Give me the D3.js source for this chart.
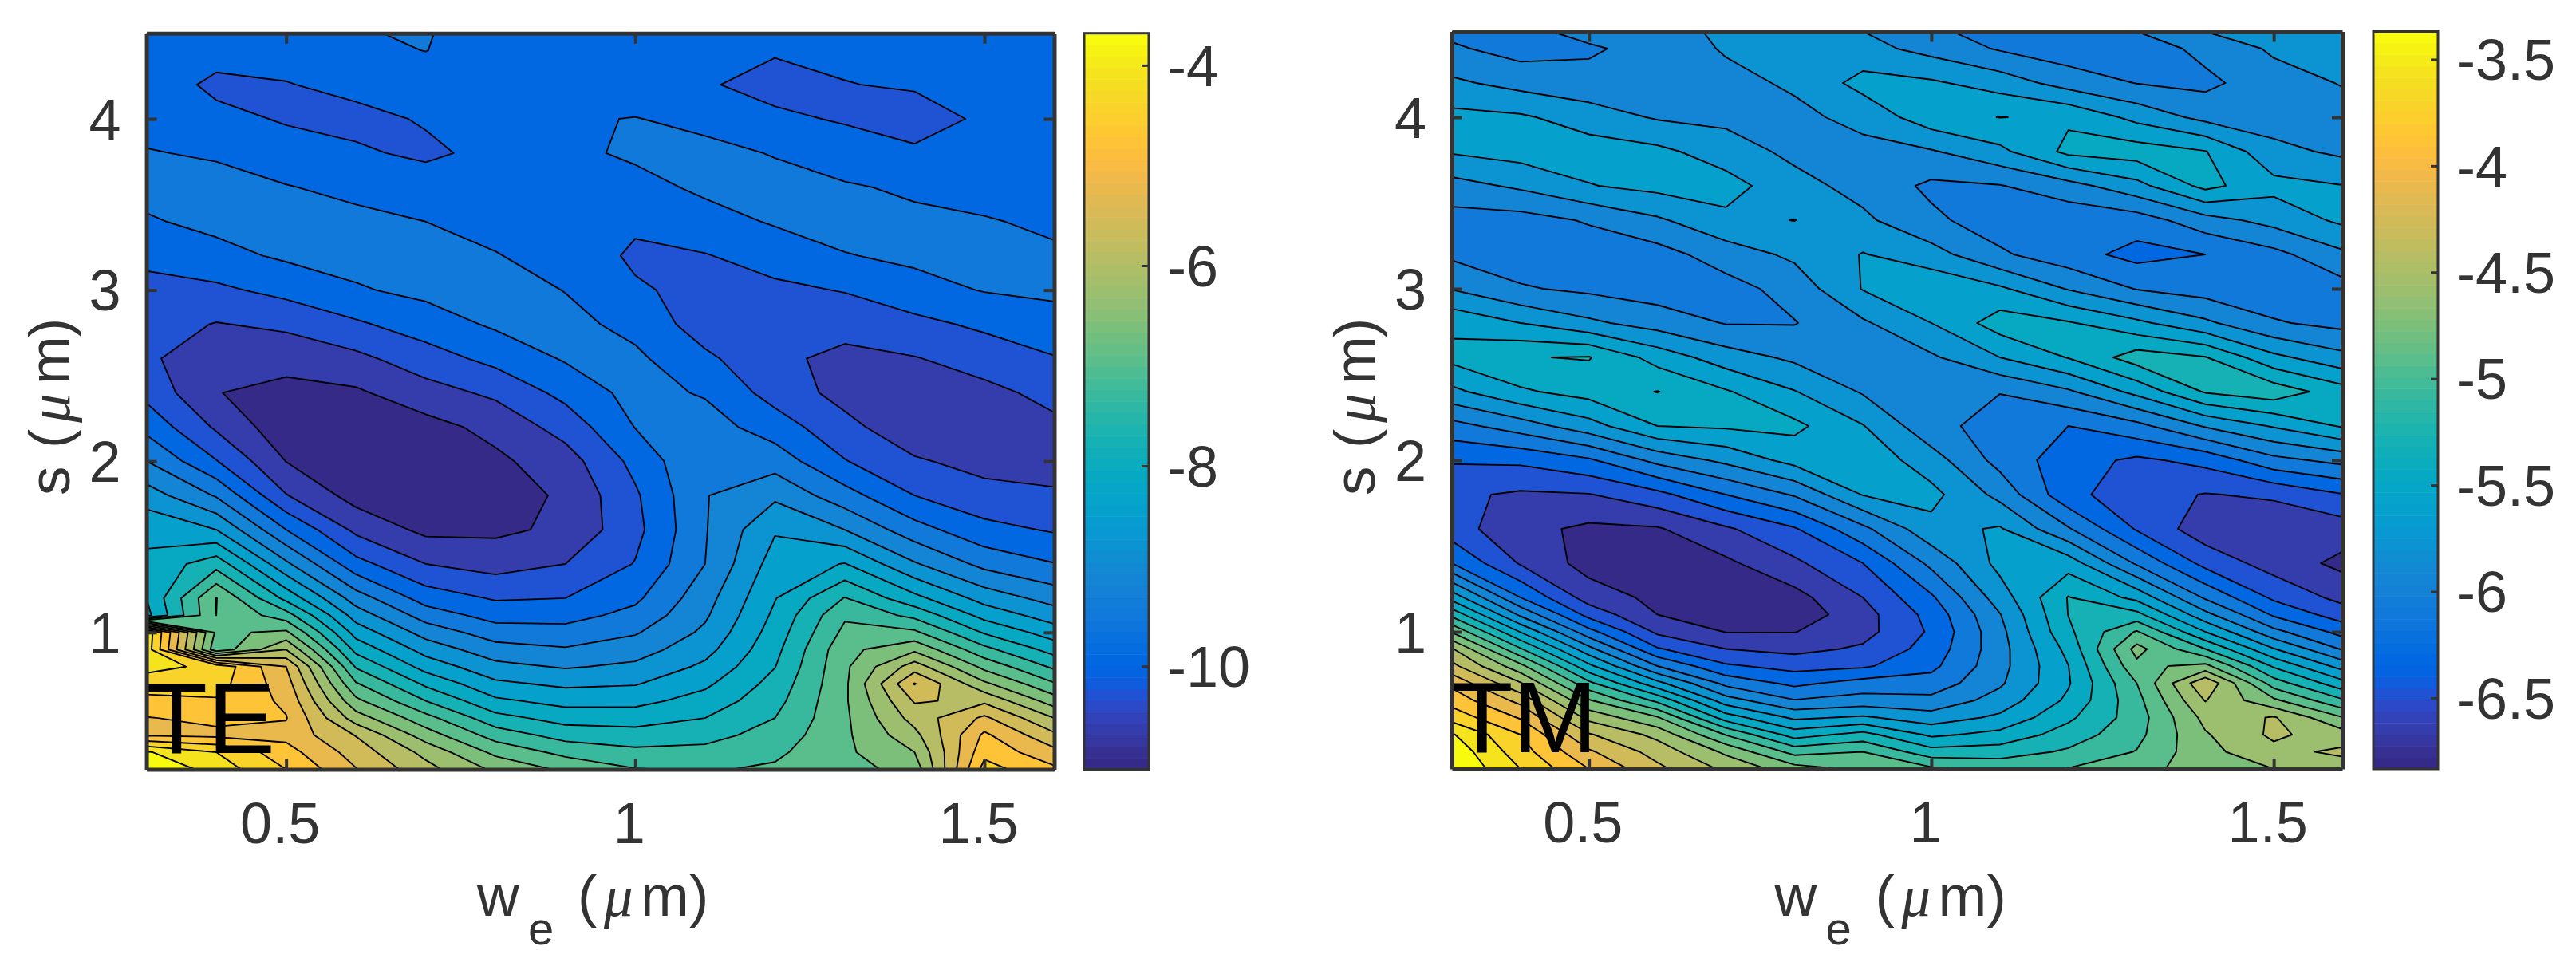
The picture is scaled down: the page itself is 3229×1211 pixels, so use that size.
<!DOCTYPE html>
<html>
<head>
<meta charset="utf-8">
<script src="https://cdn.jsdelivr.net/npm/d3@7"></script>
<style>
  html, body { margin: 0; padding: 0; background: #fff; }
  text { font-family: "Liberation Sans", Arial, sans-serif; fill: #333; }
</style>
</head>
<body>
<svg id="chart" width="3229" height="1211"></svg>
<script>
// grid of the map
var weValues = [0.3,0.4,0.5,0.6,0.7,0.8,0.9,1.0,1.1,1.2,1.3,1.4,1.5,1.6];
var sValues = [4.5,4.4,4.2,4.0,3.8,3.6,3.4,3.2,3.0,2.8,2.6,2.4,2.2,2.0,1.8,1.6,1.4,1.2,1.1,1.0,0.9,0.8,0.7,0.6,0.5,0.4,0.3,0.2];

var xTicks = [0.5,1,1.5];
var yTicks = [1,2,3,4];
var teBarTicks = [-10,-8,-6,-4];
var tmBarTicks = [-6.5,-6,-5.5,-5,-4.5,-4,-3.5];

// colour range of both maps, 20 contour levels in 21 equal steps
var teMin = -11.03, teStep = 0.35;
var tmMin = -6.834, tmStep = 0.165;
var nLevels = 20;

// read off the picture as position between contour levels (1 = first line)
// one list per w_e, from s=4.5 down to s=0.2
var teBands = [
  [3.6,3.6,3.65,3.7,4.05,4.3,3.9,3.2,2.75,2.45,2.2,2.7,3.7,5.0,6.5,7.75,8.2,8.0,7.7,19.7,19.6,19.3,18.5,17.7,16.95,16.9,20.1,21],
  [3.6,3.45,2.75,3.3,3.9,4.3,4.25,3.7,2.8,1.95,1.25,1.03,1.85,3.05,4.9,7.0,9.6,12.03,12.0,11.8,11.3,18.77,18.4,17.9,17.25,16.75,19.0,19.55],
  [3.6,3.45,2.95,2.9,3.45,4.05,4.35,4.15,3.3,2.2,1.35,0.7,0.35,0.98,2.05,4.0,6.2,8.7,10.45,12.2,14.0,16.0,16.45,16.8,17.05,16.7,17.4,18.0],
  [3.95,3.75,3.3,2.7,3.15,3.75,4.25,4.35,3.9,2.85,1.75,0.85,0.45,0.25,0.6,1.76,3.35,5.5,6.54,7.6,8.7,9.9,11.1,12.25,13.5,14.95,15.55,16.05],
  [4.08,4.02,3.4,3.1,2.8,3.55,4.0,4.3,4.25,3.5,2.55,1.6,0.65,0.3,0.2,0.75,2.0,3.55,4.55,5.6,6.6,7.6,8.8,10.0,11.35,12.5,13.7,14.35],
  [3.4,3.45,3.5,3.4,3.3,3.5,3.8,4.03,4.45,4.15,3.3,2.2,1.3,0.8,0.55,0.8,1.6,2.9,3.6,4.5,5.4,6.3,7.2,8.2,9.35,10.55,11.75,12.8],
  [3.3,3.35,3.6,3.9,3.75,3.6,3.6,3.75,3.97,4.3,4.1,3.3,2.4,1.55,1.15,1.2,2.0,3.0,3.65,4.35,5.1,5.9,6.8,7.65,8.6,9.6,10.7,11.8],
  [3.3,3.3,3.5,4.03,4.18,3.65,3.2,2.8,3.15,3.7,4.2,4.35,4.03,3.3,2.85,2.7,3.05,3.8,4.3,4.9,5.55,6.2,6.93,7.7,8.55,9.4,10.25,11.05],
  [3.25,3.05,3.1,3.75,4.25,4.2,3.6,2.95,2.65,2.5,3.2,3.9,4.45,5.0,4.95,4.93,5.0,5.6,5.85,6.2,6.65,7.2,7.8,8.4,9.0,9.65,10.3,10.9],
  [3.25,3.1,2.65,3.2,3.95,4.3,4.1,3.4,2.8,2.4,2.25,2.6,3.5,4.55,5.8,6.9,7.45,7.95,8.2,8.45,8.7,8.97,9.35,9.65,10.0,10.4,10.8,11.15],
  [3.3,3.2,2.97,2.9,3.5,4.1,4.4,3.95,3.05,2.4,1.7,1.65,2.3,3.05,4.4,6.0,8.05,10.05,10.85,11.25,11.7,11.8,11.8,11.85,11.8,11.8,11.8,11.6],
  [3.2,3.2,3.1,2.6,3.15,3.85,4.2,4.2,3.65,2.72,1.95,1.4,1.3,2.12,3.0,4.4,6.1,8.3,9.72,11.2,12.8,14.5,16.05,15.1,14.4,13.7,13.0,12.4],
  [3.3,3.3,3.25,3.15,3.2,3.75,4.05,4.2,4.05,3.2,2.4,1.75,1.5,1.65,2.35,3.3,4.7,6.6,7.65,8.9,10.3,11.7,13.2,14.8,16.2,17.2,17.7,18.4],
  [3.3,3.3,3.3,3.4,3.5,3.7,3.88,4.1,4.15,3.7,2.93,2.27,1.8,1.55,2.15,2.9,4.04,5.6,6.5,7.5,8.6,9.8,11.1,12.5,14.0,15.2,16.3,17.2]
];
var tmBands = [
  [4.75,5.15,6.19,7.3,7.1,5.62,4.6,4.8,5.95,7.75,8.3,6.75,4.65,3.1,2.2,2.45,4.0,7.6,9.7,11.9,14.1,15.3,16.75,17.6,18.6,20.1,20.7,21],
  [4.7,4.6,5.65,7.15,7.4,6.18,4.6,4.45,5.1,7.0,8.95,7.85,5.5,3.2,1.85,1.3,1.9,4.0,5.8,7.95,10.1,12.3,14.1,15.7,16.9,18.0,18.45,19.0],
  [5.35,4.85,5.35,6.5,7.5,6.95,5.1,4.4,4.8,6.2,9.06,8.4,6.6,3.85,1.95,0.8,0.6,1.52,2.65,4.35,6.3,8.25,10.25,12.1,13.7,15.1,16.15,17.0],
  [5.4,5.4,5.6,5.9,7.25,7.3,5.85,4.6,4.5,5.56,7.6,9.03,8.0,5.3,2.7,0.9,0.45,0.75,1.0,1.8,3.1,5.0,7.3,9.75,12.1,13.7,14.6,15.25],
  [6.3,6.1,5.7,5.75,6.5,7.4,6.76,5.5,4.6,4.95,6.47,8.1,8.15,6.25,4.0,1.85,0.8,0.4,0.45,0.97,2.0,3.15,4.7,6.45,8.5,10.95,12.8,13.8],
  [6.7,6.45,6.15,5.75,5.75,6.35,7.02,6.2,5.4,4.95,5.8,7.05,8.25,7.35,5.1,2.9,1.8,0.65,0.4,0.97,1.7,2.65,3.75,5.05,6.8,8.55,10.65,12.45],
  [6.0,6.35,7.35,6.3,5.7,5.65,6.2,7.05,7.05,5.85,5.55,5.9,7.05,7.7,7.05,4.75,3.0,2.0,1.6,1.65,2.15,2.85,4.4,5.4,7.15,9.35,11.0,11.8],
  [5.2,5.65,7.15,7.6,5.9,4.8,5.2,6.4,7.8,7.0,5.85,5.2,5.3,6.45,7.3,6.7,5.25,3.85,3.35,3.15,3.4,3.75,4.4,5.3,6.45,7.8,9.4,11.2],
  [4.55,4.9,6.55,8.02,6.75,4.95,4.5,5.15,7.17,8.5,7.0,5.03,4.6,4.65,5.7,7.1,7.3,6.5,5.95,5.7,5.6,5.65,5.85,6.4,7.2,8.3,9.5,10.75],
  [4.15,4.4,5.58,7.85,8.25,5.62,4.28,4.4,5.93,8.1,8.05,5.85,4.0,3.45,3.3,5.1,7.55,9.05,9.02,8.8,8.3,7.98,7.9,8.2,8.8,9.45,10.15,11.05],
  [5.0,4.4,4.97,6.7,8.5,6.68,4.5,3.67,4.95,7.23,9.5,7.3,4.7,2.8,2.4,2.9,4.85,7.7,9.3,11.1,12.35,11.75,11.0,10.67,10.5,10.7,11.05,11.6],
  [6.0,5.3,4.75,5.7,8.05,8.3,5.6,4.0,4.55,6.2,9.05,9.1,6.1,3.3,1.95,1.4,2.68,4.85,6.3,8.0,10.0,12.3,14.85,14.05,13.3,12.9,12.7,12.55],
  [6.7,6.15,5.6,5.5,6.3,7.3,6.35,4.7,4.35,5.1,7.25,9.6,7.1,4.7,2.15,1.3,1.55,2.8,3.85,5.3,7.05,8.85,10.5,12.2,14.1,14.2,13.7,13.0],
  [6.9,6.7,6.05,5.6,5.8,7.03,7.2,5.8,4.6,4.7,6.3,8.45,8.1,5.3,2.95,1.5,0.75,1.7,2.5,3.65,4.9,6.6,8.35,10.15,12.05,13.45,14.2,13.5]
];

// parula, 64 steps
var parula = [
  [0.2081,0.1663,0.5292],[0.2116,0.1898,0.5777],[0.2123,0.2138,0.6270],[0.2081,0.2386,0.6771],
  [0.1959,0.2645,0.7279],[0.1707,0.2919,0.7792],[0.1253,0.3242,0.8303],[0.0591,0.3598,0.8683],
  [0.0117,0.3875,0.8820],[0.0060,0.4086,0.8828],[0.0165,0.4266,0.8786],[0.0329,0.4430,0.8720],
  [0.0498,0.4586,0.8641],[0.0629,0.4737,0.8554],[0.0723,0.4887,0.8467],[0.0779,0.5040,0.8384],
  [0.0793,0.5200,0.8312],[0.0749,0.5375,0.8263],[0.0641,0.5570,0.8240],[0.0488,0.5772,0.8228],
  [0.0343,0.5966,0.8199],[0.0265,0.6137,0.8135],[0.0239,0.6287,0.8038],[0.0231,0.6418,0.7913],
  [0.0228,0.6535,0.7768],[0.0267,0.6642,0.7607],[0.0384,0.6743,0.7436],[0.0590,0.6838,0.7254],
  [0.0843,0.6928,0.7062],[0.1133,0.7015,0.6859],[0.1453,0.7098,0.6646],[0.1801,0.7177,0.6424],
  [0.2178,0.7250,0.6193],[0.2586,0.7317,0.5954],[0.3022,0.7376,0.5712],[0.3482,0.7424,0.5473],
  [0.3953,0.7459,0.5244],[0.4420,0.7481,0.5033],[0.4871,0.7491,0.4840],[0.5300,0.7491,0.4661],
  [0.5709,0.7485,0.4494],[0.6099,0.7473,0.4337],[0.6473,0.7456,0.4188],[0.6834,0.7435,0.4044],
  [0.7184,0.7411,0.3905],[0.7525,0.7384,0.3768],[0.7858,0.7356,0.3633],[0.8185,0.7327,0.3498],
  [0.8507,0.7299,0.3360],[0.8824,0.7274,0.3217],[0.9139,0.7258,0.3063],[0.9450,0.7261,0.2886],
  [0.9739,0.7314,0.2666],[0.9938,0.7455,0.2403],[0.9990,0.7653,0.2164],[0.9955,0.7861,0.1967],
  [0.9880,0.8066,0.1794],[0.9789,0.8271,0.1633],[0.9697,0.8481,0.1475],[0.9626,0.8705,0.1309],
  [0.9589,0.8949,0.1132],[0.9598,0.9218,0.0948],[0.9661,0.9514,0.0755],[0.9763,0.9831,0.0538]
];
var toRGB = function(i){
  var c = parula[i];
  return 'rgb(' + Math.round(c[0]*255) + ',' + Math.round(c[1]*255) + ',' + Math.round(c[2]*255) + ')';
};

var svg = d3.select("#chart");
svg.append("rect").attr("width", 3229).attr("height", 1211).attr("fill", "#fff");

var dark = "#333";
var nx = weValues.length, ny = sValues.length;

var drawPanel = function(opt){
  var x = d3.scaleLinear().domain([0.3,1.6]).range([opt.left, opt.right]);
  var y = d3.scaleLinear().domain([0.2,4.5]).range([opt.bottom, opt.top]);

  // grid index -> data, s rows are not evenly spaced
  var xIdx = d3.scaleLinear().domain(d3.range(nx)).range(weValues);
  var yIdx = d3.scaleLinear().domain(d3.range(ny)).range(sValues);

  // values in the unit of the colour bar
  var values = [];
  var i, j;
  for(j=0;j<ny;j++){
    for(i=0;i<nx;i++){
      values.push(opt.min + opt.bands[i][j]*opt.step);
    }
  }

  var levels = d3.range(1, nLevels+1).map(function(k){ return opt.min + k*opt.step; });
  var contours = d3.contours().size([nx,ny]).thresholds(levels)(values);

  var path = d3.geoPath(d3.geoTransform({
    point: function(cx, cy){
      var gx = Math.max(0, Math.min(nx-1, cx-0.5));
      var gy = Math.max(0, Math.min(ny-1, cy-0.5));
      this.stream.point(x(xIdx(gx)), y(yIdx(gy)));
    }
  }));

  var clipId = "clip" + opt.name;
  svg.append("clipPath").attr("id", clipId).append("rect")
    .attr("x", opt.left).attr("y", opt.top)
    .attr("width", opt.right-opt.left).attr("height", opt.bottom-opt.top);

  var map = svg.append("g").attr("clip-path", "url(#" + clipId + ")");
  map.append("rect")
    .attr("x", opt.left).attr("y", opt.top)
    .attr("width", opt.right-opt.left).attr("height", opt.bottom-opt.top)
    .attr("fill", toRGB(0));
  map.selectAll("path")
    .data(contours)
    .enter()
    .append("path")
    .attr("d", path)
    .attr("fill", function(d,k){ return toRGB(Math.round((k+1)*63/nLevels)); })
    .attr("stroke", "#000")
    .attr("stroke-width", 1.9)
    .attr("stroke-linejoin", "round");

  // TE / TM tag
  svg.append("text")
    .attr("x", opt.left-1).attr("y", opt.bottom-21)
    .attr("font-size", 127)
    .style("fill", "#000")
    .text(opt.name);

  // axes, ticks on all four sides
  var fmt = function(d){ return String(d); };
  var addAxis = function(axis, tx, ty, labels){
    var g = svg.append("g").attr("transform", "translate(" + tx + "," + ty + ")").call(axis);
    g.selectAll(".domain").attr("stroke", dark).attr("stroke-width", 5);
    g.selectAll(".tick line").attr("stroke", dark).attr("stroke-width", 4);
    if(!labels) g.selectAll(".tick text").remove();
    return g;
  };
  var bottom = addAxis(d3.axisBottom(x).tickValues(xTicks).tickFormat(fmt).tickSize(-13).tickSizeOuter(0), 0, opt.bottom, true);
  bottom.selectAll(".tick text")
    .attr("font-size", 72).attr("font-family", "Liberation Sans")
    .attr("dx", -8).attr("y", 0).attr("dy", 0)
    .attr("transform", "translate(0,92)");
  addAxis(d3.axisTop(x).tickValues(xTicks).tickSize(-13).tickSizeOuter(0), 0, opt.top, false);
  var leftAxis = addAxis(d3.axisLeft(y).tickValues(yTicks).tickFormat(fmt).tickSize(-13).tickSizeOuter(0), opt.left, 0, true);
  leftAxis.selectAll(".tick text")
    .attr("font-size", 72).attr("font-family", "Liberation Sans")
    .attr("x", -32).attr("dy", "0.35em");
  addAxis(d3.axisRight(y).tickValues(yTicks).tickSize(-13).tickSizeOuter(0), opt.right, 0, false);

  // x label
  var xl = svg.append("text").attr("font-size", 73).attr("y", 1148);
  xl.append("tspan").attr("x", opt.xLabel).text("w");
  xl.append("tspan").attr("x", opt.xLabel+64).attr("y", 1184).attr("font-size", 58).text("e");
  xl.append("tspan").attr("x", opt.xLabel+126).attr("y", 1148).text("(");
  xl.append("tspan").attr("x", opt.xLabel+159).attr("font-family", "Liberation Serif").attr("font-style", "italic").text("\u03bc");
  xl.append("tspan").attr("x", opt.xLabel+205).text("m");
  xl.append("tspan").attr("x", opt.xLabel+266).text(")");

  // y label
  var yl = svg.append("text").attr("font-size", 73)
    .attr("transform", "translate(" + (opt.left-97) + ",621) rotate(-90)");
  yl.append("tspan").attr("x", 0).text("s");
  yl.append("tspan").attr("x", 59).text("(");
  yl.append("tspan").attr("x", 91).attr("font-family", "Liberation Serif").attr("font-style", "italic").text("\u03bc");
  yl.append("tspan").attr("x", 139).text("m");
  yl.append("tspan").attr("x", 198).text(")");

  // colour bar
  var zMax = opt.min + 21*opt.step;
  var bar = d3.scaleLinear().domain([opt.min, zMax]).range([opt.bottom, opt.top]);
  var barStep = d3.scaleLinear().domain([0,64]).range([opt.bottom, opt.top]);
  svg.append("g").selectAll("rect")
    .data(parula)
    .enter()
    .append("rect")
    .attr("x", opt.barLeft)
    .attr("y", function(d,k){ return barStep(k+1); })
    .attr("width", opt.barRight-opt.barLeft)
    .attr("height", function(d,k){ return barStep(k)-barStep(k+1)+0.5; })
    .attr("fill", function(d,k){ return toRGB(k); });
  var barAxis = svg.append("g")
    .attr("transform", "translate(" + opt.barRight + ",0)")
    .call(d3.axisRight(bar).tickValues(opt.barTicks).tickFormat(fmt).tickSize(-9).tickSizeOuter(0));
  barAxis.selectAll(".domain").remove();
  barAxis.selectAll(".tick line").attr("stroke", dark).attr("stroke-width", 3);
  barAxis.selectAll(".tick text")
    .attr("font-size", 72).attr("font-family", "Liberation Sans")
    .attr("x", 23).attr("dy", "0.35em");
  svg.append("rect")
    .attr("x", opt.barLeft).attr("y", opt.top)
    .attr("width", opt.barRight-opt.barLeft).attr("height", opt.bottom-opt.top)
    .attr("fill", "none").attr("stroke", dark).attr("stroke-width", 3);
};

drawPanel({name:"TE", bands:teBands, min:teMin, step:teStep, barTicks:teBarTicks,
  left:183.6, right:1321.5, top:41.7, bottom:964.5, barLeft:1359, barRight:1440, xLabel:598});
drawPanel({name:"TM", bands:tmBands, min:tmMin, step:tmStep, barTicks:tmBarTicks,
  left:1820, right:2936, top:39.5, bottom:964, barLeft:2975, barRight:3056, xLabel:2224.5});
</script>
</body>
</html>
